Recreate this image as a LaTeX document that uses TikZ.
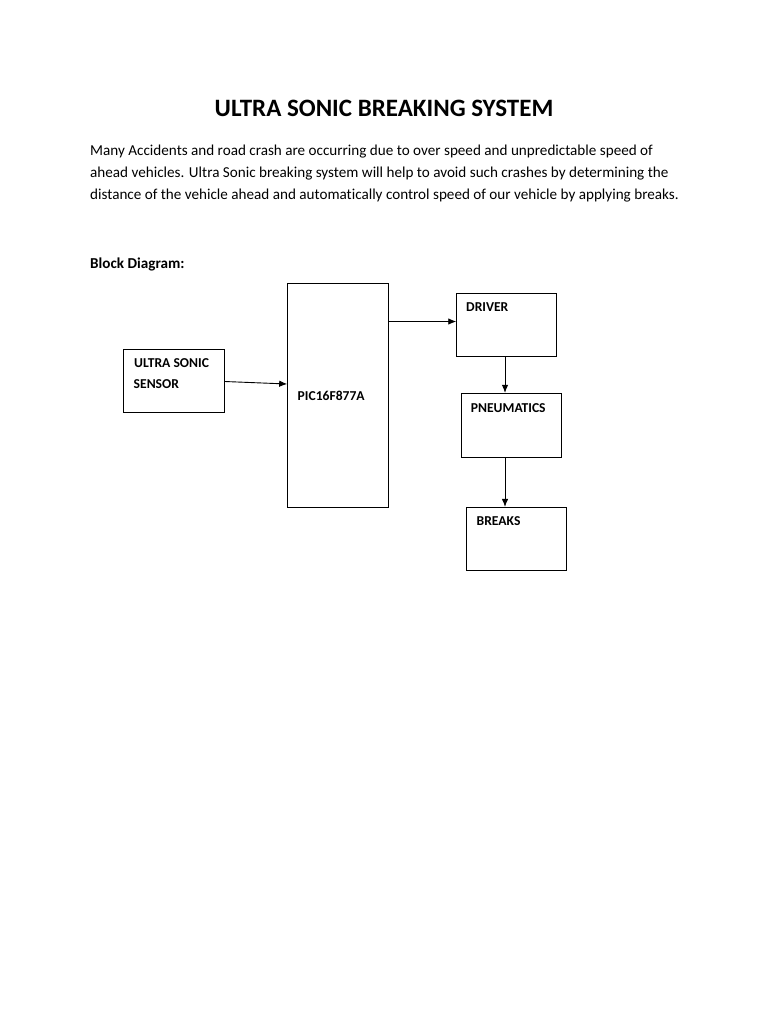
\documentclass[tikz,border=0pt]{standalone}
\usepackage{fontspec}
\setmainfont{Carlito}[Ligatures=NoCommon]
\usetikzlibrary{arrows.meta}
\begin{document}
\begin{tikzpicture}[x=1pt,y=-1pt,
  box/.style={draw=black,line width=0.9pt,inner sep=0pt},
  lbl/.style={anchor=base west,inner sep=0pt,font=\fontsize{13.6}{16}\selectfont\bfseries},
  body/.style={anchor=base west,inner sep=0pt,font=\fontsize{15.15}{22}\selectfont},
  arr/.style={draw=black,line width=0.9pt,-{Latex[length=8pt,width=6.5pt]}}]
\useasboundingbox (0,0) rectangle (768,1024);
\fill[white] (0,0) rectangle (768,1024);
% title and text
\node[anchor=base,inner sep=0pt,font=\fontsize{25}{30}\selectfont\bfseries] (title) at (384,117) {ULTRA SONIC BREAKING SYSTEM};
\node[body] (l1) at (90,156) {Many Accidents and road crash are occurring due to over speed and unpredictable speed of};
\node[body] (l2) at (90,178) {ahead vehicles. Ultra Sonic breaking system will help to avoid such crashes by determining the};
\node[body] (l3) at (90,199.5) {distance of the vehicle ahead and automatically control speed of our vehicle by applying breaks.};
\node[body,font=\fontsize{15.15}{22}\selectfont\bfseries] (bd) at (90,268.5) {Block Diagram:};
% boxes
\node[box,minimum width=100.6pt,minimum height=63pt] (sensor) at (174,380.5) {};
\node[box,minimum width=100.3pt,minimum height=224pt] (pic) at (337.8,395) {};
\node[box,minimum width=100pt,minimum height=62.7pt] (driver) at (506.7,324.7) {};
\node[box,minimum width=100pt,minimum height=64pt] (pneu) at (511,425.3) {};
\node[box,minimum width=100.4pt,minimum height=62.7pt] (breaks) at (516.5,538.7) {};
% labels
\node[lbl] (sensorl1) at (134,367.3) {ULTRA SONIC};
\node[lbl] (sensorl2) at (133.5,388) {SENSOR};
\node[lbl] (picl) at (297.5,400.5) {PIC16F877A};
\node[lbl] (driverl) at (466,311) {DRIVER};
\node[lbl] (pneul) at (470.7,412.7) {PNEUMATICS};
\node[lbl] (breaksl) at (476.5,525) {BREAKS};
% connectors
\draw[arr] ([yshift=-1pt]sensor.east) -- ([yshift=11pt]pic.west);
\draw[arr] ([yshift=3.2pt]driver.west -| pic.east) -- ([yshift=3.2pt]driver.west);
\draw[arr] ([xshift=-1.7pt]driver.south) -- ([xshift=-1.7pt]driver.south |- pneu.north);
\draw[arr] ([xshift=-6pt]pneu.south) -- ([xshift=-6pt]pneu.south |- breaks.north);
\end{tikzpicture}
\end{document}
